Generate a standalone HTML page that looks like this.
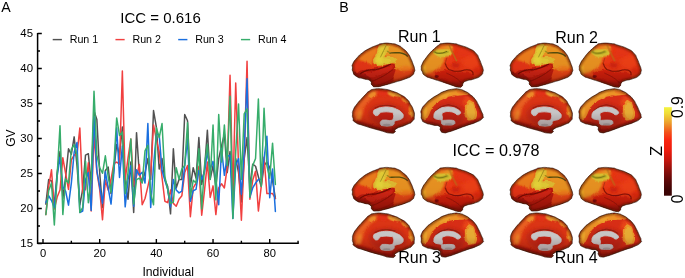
<!DOCTYPE html>
<html><head><meta charset="utf-8"><title>Figure</title>
<style>html,body{margin:0;padding:0;background:#fff}svg{display:block}text{font-family:"Liberation Sans",sans-serif;fill:#000}</style>
</head><body>
<svg width="685" height="278" viewBox="0 0 685 278">
<rect width="685" height="278" fill="#fff"/>
<defs>
<filter id="b3" x="-30%" y="-30%" width="160%" height="160%"><feGaussianBlur stdDeviation="3"/></filter>
<filter id="b5" x="-30%" y="-30%" width="160%" height="160%"><feGaussianBlur stdDeviation="5"/></filter>
<filter id="b8" x="-30%" y="-30%" width="160%" height="160%"><feGaussianBlur stdDeviation="8"/></filter>
<filter id="b2" x="-30%" y="-30%" width="160%" height="160%"><feGaussianBlur stdDeviation="1.6"/></filter>
<filter id="rough" x="-5%" y="-5%" width="110%" height="110%"><feTurbulence type="fractalNoise" baseFrequency="0.035" numOctaves="3" seed="7" result="n"/><feDisplacementMap in="SourceGraphic" in2="n" scale="15" xChannelSelector="R" yChannelSelector="G"/></filter>
<filter id="rough2" x="-5%" y="-5%" width="110%" height="110%"><feTurbulence type="fractalNoise" baseFrequency="0.06" numOctaves="2" seed="3" result="n"/><feDisplacementMap in="SourceGraphic" in2="n" scale="7" xChannelSelector="R" yChannelSelector="G"/></filter>
<linearGradient id="shade" gradientUnits="userSpaceOnUse" x1="0" y1="20" x2="0" y2="265"><stop offset="0" stop-color="#300" stop-opacity="0"/><stop offset="0.55" stop-color="#300" stop-opacity="0.04"/><stop offset="1" stop-color="#300" stop-opacity="0.38"/></linearGradient>
<linearGradient id="cb" x1="0" y1="0" x2="0" y2="1"><stop offset="0" stop-color="#f4f440"/><stop offset="0.07" stop-color="#f0dc38"/><stop offset="0.18" stop-color="#ec9c2c"/><stop offset="0.28" stop-color="#f2541a"/><stop offset="0.37" stop-color="#fa2610"/><stop offset="0.49" stop-color="#ec1c0e"/><stop offset="0.6" stop-color="#c4160e"/><stop offset="0.71" stop-color="#8e100c"/><stop offset="0.83" stop-color="#5c0808"/><stop offset="0.94" stop-color="#3c0404"/><stop offset="1" stop-color="#3a0404"/></linearGradient>
<clipPath id="cA"><path d="M25.0 155.0 C25.0 140.3 18.0 150.3 27.0 131.0 C36.0 111.7 35.0 116.3 52.0 97.0 C69.0 77.7 57.0 89.0 78.0 73.0 C99.0 57.0 87.3 63.7 115.0 49.0 C142.7 34.3 135.7 38.8 161.0 29.0 C186.3 19.2 165.0 22.7 191.0 19.5 C217.0 16.3 210.0 16.3 239.0 19.5 C268.0 22.7 255.2 19.2 278.0 29.0 C300.8 38.8 289.5 34.3 307.5 49.0 C325.5 63.7 317.8 54.3 332.0 73.0 C346.2 91.7 340.0 84.3 350.0 105.0 C360.0 125.7 355.3 116.7 362.0 135.0 C368.7 153.3 368.0 145.7 370.0 160.0 C372.0 174.3 373.3 165.0 368.0 178.0 C362.7 191.0 370.3 186.3 354.0 199.0 C337.7 211.7 349.3 204.3 319.0 216.0 C288.7 227.7 300.3 222.7 263.0 234.0 C225.7 245.3 242.0 241.3 207.0 250.0 C172.0 258.7 182.3 259.7 158.0 260.0 C133.7 260.3 145.7 262.0 134.0 251.0 C122.3 240.0 138.3 238.7 123.0 227.0 C107.7 215.3 113.7 224.3 88.0 216.0 C62.3 207.7 66.3 215.7 46.0 202.0 C25.7 188.3 34.0 190.7 27.0 175.0 C20.0 159.3 25.0 169.7 25.0 155.0Z"/></clipPath>
<g id="vA" transform="translate(348,40) scale(0.17986)">
<g clip-path="url(#cA)">
<path d="M25.0 155.0 C25.0 140.3 18.0 150.3 27.0 131.0 C36.0 111.7 35.0 116.3 52.0 97.0 C69.0 77.7 57.0 89.0 78.0 73.0 C99.0 57.0 87.3 63.7 115.0 49.0 C142.7 34.3 135.7 38.8 161.0 29.0 C186.3 19.2 165.0 22.7 191.0 19.5 C217.0 16.3 210.0 16.3 239.0 19.5 C268.0 22.7 255.2 19.2 278.0 29.0 C300.8 38.8 289.5 34.3 307.5 49.0 C325.5 63.7 317.8 54.3 332.0 73.0 C346.2 91.7 340.0 84.3 350.0 105.0 C360.0 125.7 355.3 116.7 362.0 135.0 C368.7 153.3 368.0 145.7 370.0 160.0 C372.0 174.3 373.3 165.0 368.0 178.0 C362.7 191.0 370.3 186.3 354.0 199.0 C337.7 211.7 349.3 204.3 319.0 216.0 C288.7 227.7 300.3 222.7 263.0 234.0 C225.7 245.3 242.0 241.3 207.0 250.0 C172.0 258.7 182.3 259.7 158.0 260.0 C133.7 260.3 145.7 262.0 134.0 251.0 C122.3 240.0 138.3 238.7 123.0 227.0 C107.7 215.3 113.7 224.3 88.0 216.0 C62.3 207.7 66.3 215.7 46.0 202.0 C25.7 188.3 34.0 190.7 27.0 175.0 C20.0 159.3 25.0 169.7 25.0 155.0Z" fill="#e64014"/>
<g filter="url(#rough)">
<path d="M58.0 100.0 C68.0 82.0 69.3 82.7 100.0 62.0 C130.7 41.3 129.3 35.3 150.0 38.0 C170.7 40.7 164.7 49.3 162.0 70.0 C159.3 90.7 153.3 78.7 142.0 100.0 C130.7 121.3 143.7 124.7 128.0 134.0 C112.3 143.3 114.3 134.0 95.0 128.0 C75.7 122.0 82.3 125.3 70.0 116.0 C57.7 106.7 48.0 118.0 58.0 100.0Z" fill="#ec7c1e" fill-opacity="1" filter="url(#b5)"/>
<path d="M205.0 20.0 C223.0 12.7 228.7 17.3 262.0 28.0 C295.3 38.7 279.0 29.7 305.0 52.0 C331.0 74.3 321.0 65.7 340.0 95.0 C359.0 124.3 360.3 116.3 362.0 140.0 C363.7 163.7 370.7 157.3 345.0 166.0 C319.3 174.7 316.7 176.0 285.0 166.0 C253.3 156.0 262.3 158.0 250.0 136.0 C237.7 114.0 260.7 115.3 248.0 100.0 C235.3 84.7 225.3 106.7 212.0 90.0 C198.7 73.3 210.3 73.3 208.0 50.0 C205.7 26.7 187.0 27.3 205.0 20.0Z" fill="#ea9424" fill-opacity="1" filter="url(#b5)"/>
<ellipse cx="322" cy="160" rx="42" ry="15" fill="#ee7a1e" fill-opacity="1" filter="url(#b5)"/>
<path d="M250.0 166.0 C266.7 155.3 266.7 172.0 300.0 174.0 C333.3 176.0 326.7 168.3 350.0 172.0 C373.3 175.7 370.0 174.0 370.0 185.0 C370.0 196.0 373.3 192.7 350.0 205.0 C326.7 217.3 333.3 221.7 300.0 222.0 C266.7 222.3 266.7 224.7 250.0 206.0 C233.3 187.3 233.3 176.7 250.0 166.0Z" fill="#ec4a16" fill-opacity="1" filter="url(#b5)"/>
<path d="M180.0 28.0 C195.7 22.0 198.7 16.7 214.0 24.0 C229.3 31.3 226.0 33.0 226.0 50.0 C226.0 67.0 220.7 60.0 214.0 75.0 C207.3 90.0 201.3 89.3 206.0 95.0 C210.7 100.7 210.7 90.3 228.0 92.0 C245.3 93.7 245.7 91.3 258.0 100.0 C270.3 108.7 271.7 108.0 265.0 118.0 C258.3 128.0 259.0 123.3 238.0 130.0 C217.0 136.7 222.3 133.7 202.0 138.0 C181.7 142.3 193.7 143.0 177.0 143.0 C160.3 143.0 164.3 147.0 152.0 138.0 C139.7 129.0 140.7 132.0 140.0 116.0 C139.3 100.0 143.3 107.0 150.0 90.0 C156.7 73.0 154.3 81.0 160.0 65.0 C165.7 49.0 160.3 54.3 167.0 42.0 C173.7 29.7 164.3 34.0 180.0 28.0Z" fill="#e0bc30" fill-opacity="1" filter="url(#b3)"/>
<path d="M178.0 50.0 C190.7 37.7 191.3 39.7 200.0 48.0 C208.7 56.3 205.3 58.3 204.0 75.0 C202.7 91.7 191.7 88.3 196.0 98.0 C200.3 107.7 203.3 100.0 217.0 104.0 C230.7 108.0 233.7 103.3 237.0 110.0 C240.3 116.7 242.0 116.7 227.0 124.0 C212.0 131.3 213.7 129.3 192.0 132.0 C170.3 134.7 175.3 138.7 162.0 132.0 C148.7 125.3 152.0 127.7 152.0 112.0 C152.0 96.3 153.3 105.7 162.0 85.0 C170.7 64.3 165.3 62.3 178.0 50.0Z" fill="#e2cc36" fill-opacity="1" filter="url(#b3)"/>
<ellipse cx="176" cy="112" rx="16" ry="18" fill="#e8d83a" fill-opacity="0.9" filter="url(#b5)"/>
<path d="M26.0 150.0 C30.0 131.3 25.7 132.0 42.0 122.0 C58.3 112.0 49.0 115.3 75.0 120.0 C101.0 124.7 98.3 126.0 120.0 136.0 C141.7 146.0 146.7 138.0 140.0 150.0 C133.3 162.0 126.7 161.3 100.0 172.0 C73.3 182.7 83.3 180.0 60.0 182.0 C36.7 184.0 41.3 188.7 30.0 178.0 C18.7 167.3 22.0 168.7 26.0 150.0Z" fill="#e43614" fill-opacity="1" filter="url(#b5)"/>
<path d="M58.0 178.0 C74.7 163.3 72.7 170.3 110.0 162.0 C147.3 153.7 127.3 162.7 170.0 153.0 C212.7 143.3 207.3 134.0 238.0 133.0 C268.7 132.0 256.7 127.7 262.0 150.0 C267.3 172.3 262.0 170.0 254.0 200.0 C246.0 230.0 270.0 219.3 238.0 240.0 C206.0 260.7 194.0 258.7 158.0 262.0 C122.0 265.3 142.7 262.0 130.0 250.0 C117.3 238.0 143.3 240.7 120.0 226.0 C96.7 211.3 80.7 222.0 60.0 206.0 C39.3 190.0 41.3 192.7 58.0 178.0Z" fill="#be1e10" fill-opacity="1" filter="url(#b3)"/>
<path d="M88.0 188.0 C98.0 176.3 102.0 186.7 150.0 173.0 C198.0 159.3 200.3 151.0 232.0 147.0 C263.7 143.0 262.3 145.7 245.0 161.0 C227.7 176.3 221.7 177.3 180.0 193.0 C138.3 208.7 150.7 209.7 120.0 208.0 C89.3 206.3 78.0 199.7 88.0 188.0Z" fill="#d22612" fill-opacity="1" filter="url(#b3)"/>
<path d="M28.0 178.0 C32.7 172.3 32.7 178.7 60.0 186.0 C87.3 193.3 89.0 186.3 110.0 200.0 C131.0 213.7 130.3 221.3 123.0 227.0 C115.7 232.7 113.7 225.0 88.0 217.0 C62.3 209.0 66.0 216.0 46.0 203.0 C26.0 190.0 23.3 183.7 28.0 178.0Z" fill="#a8180e" fill-opacity="1" filter="url(#b3)"/>
</g>
<path d="M211.0 33.0 C204.7 46.0 202.0 51.7 192.0 72.0 C182.0 92.3 184.7 86.7 181.0 94.0" fill="none" stroke="#8a7e18" stroke-width="5" stroke-opacity="0.85" stroke-linecap="round" stroke-linejoin="round" filter="url(#b2)"/>
<path d="M234.0 73.0 C246.0 72.3 246.3 70.3 270.0 71.0 C293.7 71.7 285.0 68.7 305.0 75.0 C325.0 81.3 321.7 85.0 330.0 90.0" fill="none" stroke="#4e4a0e" stroke-width="7.5" stroke-opacity="0.95" stroke-linecap="round" stroke-linejoin="round" filter="url(#b2)"/>
<path d="M218.0 62.0 C223.3 65.3 228.7 68.7 234.0 72.0" fill="none" stroke="#8e8618" stroke-width="6" stroke-opacity="0.85" stroke-linecap="round" stroke-linejoin="round" filter="url(#b2)"/>
<path d="M68.0 188.0 C81.3 181.7 74.0 178.0 108.0 169.0 C142.0 160.0 127.3 172.3 170.0 161.0 C212.7 149.7 214.0 143.7 236.0 135.0" fill="none" stroke="#6a0a06" stroke-width="6" stroke-opacity="0.95" stroke-linecap="round" stroke-linejoin="round" filter="url(#b2)"/>
<path d="M125.0 232.0 C144.0 224.0 141.3 229.7 182.0 208.0 C222.7 186.3 225.3 180.7 247.0 167.0" fill="none" stroke="#84100a" stroke-width="5" stroke-opacity="0.9" stroke-linecap="round" stroke-linejoin="round" filter="url(#b2)"/>
<path d="M155.0 254.0 C171.7 248.7 172.7 252.0 205.0 238.0 C237.3 224.0 236.3 220.7 252.0 212.0" fill="none" stroke="#9a140c" stroke-width="5" stroke-opacity="0.7" stroke-linecap="round" stroke-linejoin="round" filter="url(#b3)"/>
<rect x="0" y="0" width="400" height="278" fill="url(#shade)"/>
<path d="M25.0 155.0 C25.0 140.3 18.0 150.3 27.0 131.0 C36.0 111.7 35.0 116.3 52.0 97.0 C69.0 77.7 57.0 89.0 78.0 73.0 C99.0 57.0 87.3 63.7 115.0 49.0 C142.7 34.3 135.7 38.8 161.0 29.0 C186.3 19.2 165.0 22.7 191.0 19.5 C217.0 16.3 210.0 16.3 239.0 19.5 C268.0 22.7 255.2 19.2 278.0 29.0 C300.8 38.8 289.5 34.3 307.5 49.0 C325.5 63.7 317.8 54.3 332.0 73.0 C346.2 91.7 340.0 84.3 350.0 105.0 C360.0 125.7 355.3 116.7 362.0 135.0 C368.7 153.3 368.0 145.7 370.0 160.0 C372.0 174.3 373.3 165.0 368.0 178.0 C362.7 191.0 370.3 186.3 354.0 199.0 C337.7 211.7 349.3 204.3 319.0 216.0 C288.7 227.7 300.3 222.7 263.0 234.0 C225.7 245.3 242.0 241.3 207.0 250.0 C172.0 258.7 182.3 259.7 158.0 260.0 C133.7 260.3 145.7 262.0 134.0 251.0 C122.3 240.0 138.3 238.7 123.0 227.0 C107.7 215.3 113.7 224.3 88.0 216.0 C62.3 207.7 66.3 215.7 46.0 202.0 C25.7 188.3 34.0 190.7 27.0 175.0 C20.0 159.3 25.0 169.7 25.0 155.0Z" fill="none" stroke="#4a1206" stroke-opacity="0.6" stroke-width="18" filter="url(#b5)"/>
</g>
<path d="M25.0 155.0 C25.0 140.3 18.0 150.3 27.0 131.0 C36.0 111.7 35.0 116.3 52.0 97.0 C69.0 77.7 57.0 89.0 78.0 73.0 C99.0 57.0 87.3 63.7 115.0 49.0 C142.7 34.3 135.7 38.8 161.0 29.0 C186.3 19.2 165.0 22.7 191.0 19.5 C217.0 16.3 210.0 16.3 239.0 19.5 C268.0 22.7 255.2 19.2 278.0 29.0 C300.8 38.8 289.5 34.3 307.5 49.0 C325.5 63.7 317.8 54.3 332.0 73.0 C346.2 91.7 340.0 84.3 350.0 105.0 C360.0 125.7 355.3 116.7 362.0 135.0 C368.7 153.3 368.0 145.7 370.0 160.0 C372.0 174.3 373.3 165.0 368.0 178.0 C362.7 191.0 370.3 186.3 354.0 199.0 C337.7 211.7 349.3 204.3 319.0 216.0 C288.7 227.7 300.3 222.7 263.0 234.0 C225.7 245.3 242.0 241.3 207.0 250.0 C172.0 258.7 182.3 259.7 158.0 260.0 C133.7 260.3 145.7 262.0 134.0 251.0 C122.3 240.0 138.3 238.7 123.0 227.0 C107.7 215.3 113.7 224.3 88.0 216.0 C62.3 207.7 66.3 215.7 46.0 202.0 C25.7 188.3 34.0 190.7 27.0 175.0 C20.0 159.3 25.0 169.7 25.0 155.0Z" fill="none" stroke="#2a1008" stroke-opacity="0.92" stroke-width="4"/>
</g>
<clipPath id="cB"><path d="M24.0 158.0 C24.3 143.3 20.7 151.3 30.0 131.0 C39.3 110.7 38.3 116.3 52.0 97.0 C65.7 77.7 56.3 89.0 71.0 73.0 C85.7 57.0 79.7 63.7 96.0 49.0 C112.3 34.3 104.7 38.8 120.0 29.0 C135.3 19.2 115.3 22.7 142.0 19.5 C168.7 16.3 167.7 16.3 200.0 19.5 C232.3 22.7 208.0 19.2 239.0 29.0 C270.0 38.8 263.7 34.3 293.0 49.0 C322.3 63.7 309.3 54.3 327.0 73.0 C344.7 91.7 335.7 84.3 346.0 105.0 C356.3 125.7 351.0 116.7 358.0 135.0 C365.0 153.3 364.0 146.3 367.0 160.0 C370.0 173.7 371.3 163.0 367.0 176.0 C362.7 189.0 370.0 185.7 354.0 199.0 C338.0 212.3 344.7 206.7 319.0 216.0 C293.3 225.3 297.3 219.7 277.0 227.0 C256.7 234.3 267.3 227.7 258.0 238.0 C248.7 248.3 259.0 250.0 249.0 258.0 C239.0 266.0 246.7 264.3 228.0 262.0 C209.3 259.7 221.0 260.3 193.0 251.0 C165.0 241.7 179.0 245.7 144.0 234.0 C109.0 222.3 120.7 227.7 88.0 216.0 C55.3 204.3 65.7 212.7 46.0 199.0 C26.3 185.3 36.3 188.7 29.0 175.0 C21.7 161.3 23.7 172.7 24.0 158.0Z"/></clipPath>
<g id="vB" transform="translate(417,40) scale(0.17986)">
<g clip-path="url(#cB)">
<path d="M24.0 158.0 C24.3 143.3 20.7 151.3 30.0 131.0 C39.3 110.7 38.3 116.3 52.0 97.0 C65.7 77.7 56.3 89.0 71.0 73.0 C85.7 57.0 79.7 63.7 96.0 49.0 C112.3 34.3 104.7 38.8 120.0 29.0 C135.3 19.2 115.3 22.7 142.0 19.5 C168.7 16.3 167.7 16.3 200.0 19.5 C232.3 22.7 208.0 19.2 239.0 29.0 C270.0 38.8 263.7 34.3 293.0 49.0 C322.3 63.7 309.3 54.3 327.0 73.0 C344.7 91.7 335.7 84.3 346.0 105.0 C356.3 125.7 351.0 116.7 358.0 135.0 C365.0 153.3 364.0 146.3 367.0 160.0 C370.0 173.7 371.3 163.0 367.0 176.0 C362.7 189.0 370.0 185.7 354.0 199.0 C338.0 212.3 344.7 206.7 319.0 216.0 C293.3 225.3 297.3 219.7 277.0 227.0 C256.7 234.3 267.3 227.7 258.0 238.0 C248.7 248.3 259.0 250.0 249.0 258.0 C239.0 266.0 246.7 264.3 228.0 262.0 C209.3 259.7 221.0 260.3 193.0 251.0 C165.0 241.7 179.0 245.7 144.0 234.0 C109.0 222.3 120.7 227.7 88.0 216.0 C55.3 204.3 65.7 212.7 46.0 199.0 C26.3 185.3 36.3 188.7 29.0 175.0 C21.7 161.3 23.7 172.7 24.0 158.0Z" fill="#e83814"/>
<g filter="url(#rough)">
<path d="M40.0 150.0 C56.7 130.0 60.0 140.0 100.0 140.0 C140.0 140.0 143.3 125.0 160.0 150.0 C176.7 175.0 170.0 193.0 150.0 215.0 C130.0 237.0 133.3 221.0 100.0 216.0 C66.7 211.0 70.0 222.0 50.0 200.0 C30.0 178.0 23.3 170.0 40.0 150.0Z" fill="#e84816" fill-opacity="1" filter="url(#b5)"/>
<path d="M24.0 125.0 C33.0 93.0 29.7 114.3 55.0 88.0 C80.3 61.7 65.0 67.3 100.0 46.0 C135.0 24.7 128.0 26.0 160.0 24.0 C192.0 22.0 186.7 23.0 196.0 40.0 C205.3 57.0 196.0 55.0 188.0 75.0 C180.0 95.0 184.7 83.7 172.0 100.0 C159.3 116.3 167.3 105.3 150.0 124.0 C132.7 142.7 146.7 136.7 120.0 156.0 C93.3 175.3 100.7 172.7 70.0 182.0 C39.3 191.3 43.3 203.0 28.0 184.0 C12.7 165.0 15.0 157.0 24.0 125.0Z" fill="#ea9424" fill-opacity="1" filter="url(#b5)"/>
<path d="M98.0 58.0 C112.0 46.7 122.0 52.0 150.0 52.0 C178.0 52.0 169.3 47.3 182.0 58.0 C194.7 68.7 198.7 72.0 188.0 84.0 C177.3 96.0 176.7 93.3 150.0 94.0 C123.3 94.7 125.3 98.0 108.0 86.0 C90.7 74.0 84.0 69.3 98.0 58.0Z" fill="#d8c230" fill-opacity="1" filter="url(#b3)"/>
<ellipse cx="130" cy="36" rx="36" ry="11" fill="#ee6c20" fill-opacity="0.9" filter="url(#b5)" transform="rotate(-12 130 36)"/>
<ellipse cx="176" cy="112" rx="26" ry="22" fill="#ee3c16" fill-opacity="0.9" filter="url(#b5)"/>
<ellipse cx="36" cy="165" rx="11" ry="26" fill="#eeb02a" fill-opacity="1" filter="url(#b5)"/>
<ellipse cx="300" cy="120" rx="45" ry="40" fill="#ee4014" fill-opacity="1" filter="url(#b8)"/>
<ellipse cx="260" cy="70" rx="45" ry="22" fill="#e63412" fill-opacity="1" filter="url(#b8)"/>
<ellipse cx="340" cy="170" rx="25" ry="18" fill="#e02c10" fill-opacity="1" filter="url(#b5)"/>
<path d="M98.0 196.0 C100.0 174.7 119.3 178.0 150.0 170.0 C180.7 162.0 156.7 168.7 190.0 172.0 C223.3 175.3 213.3 175.3 250.0 180.0 C286.7 184.7 279.3 177.7 300.0 186.0 C320.7 194.3 319.7 191.3 312.0 205.0 C304.3 218.7 295.0 216.0 277.0 227.0 C259.0 238.0 267.3 227.7 258.0 238.0 C248.7 248.3 259.0 250.0 249.0 258.0 C239.0 266.0 246.7 264.3 228.0 262.0 C209.3 259.7 221.0 260.3 193.0 251.0 C165.0 241.7 175.7 252.3 144.0 234.0 C112.3 215.7 96.0 217.3 98.0 196.0Z" fill="#d82410" fill-opacity="1" filter="url(#b3)"/>
<path d="M130.0 226.0 C132.3 219.7 156.0 230.0 200.0 232.0 C244.0 234.0 245.7 223.3 262.0 232.0 C278.3 240.7 260.3 248.0 249.0 258.0 C237.7 268.0 246.7 264.3 228.0 262.0 C209.3 259.7 225.7 263.0 193.0 251.0 C160.3 239.0 127.7 232.3 130.0 226.0Z" fill="#b41a10" fill-opacity="1" filter="url(#b5)"/>
<ellipse cx="109" cy="203" rx="11" ry="8" fill="#7e0e08" fill-opacity="1" filter="url(#b3)"/>
<ellipse cx="215" cy="140" rx="22" ry="14" fill="#c81e10" fill-opacity="0.8" filter="url(#b5)"/>
</g>
<path d="M96.0 66.0 C106.7 69.0 103.3 75.0 128.0 75.0 C152.7 75.0 156.0 69.0 170.0 66.0" fill="none" stroke="#b4aa24" stroke-width="13" stroke-opacity="0.95" stroke-linecap="round" stroke-linejoin="round" filter="url(#b3)"/>
<path d="M100.0 68.0 C109.3 70.0 106.3 75.3 128.0 74.0 C149.7 72.7 152.7 67.3 165.0 64.0" fill="none" stroke="#5e5a10" stroke-width="5" stroke-opacity="0.9" stroke-linecap="round" stroke-linejoin="round" filter="url(#b2)"/>
<path d="M180.0 32.0 C186.7 46.3 186.7 47.3 200.0 75.0 C213.3 102.7 213.3 101.7 220.0 115.0" fill="none" stroke="#b8721a" stroke-width="8" stroke-opacity="0.8" stroke-linecap="round" stroke-linejoin="round" filter="url(#b3)"/>
<path d="M158.0 132.0 C162.0 140.0 159.3 144.0 170.0 156.0 C180.7 168.0 170.7 162.0 190.0 168.0 C209.3 174.0 199.0 175.0 228.0 174.0 C257.0 173.0 251.3 165.0 277.0 165.0 C302.7 165.0 293.3 165.0 305.0 174.0 C316.7 183.0 309.7 186.0 312.0 192.0" fill="none" stroke="#7e0e08" stroke-width="6" stroke-opacity="0.95" stroke-linecap="round" stroke-linejoin="round" filter="url(#b2)"/>
<path d="M166.0 100.0 C162.7 110.7 159.3 121.3 156.0 132.0" fill="none" stroke="#a43410" stroke-width="5" stroke-opacity="0.8" stroke-linecap="round" stroke-linejoin="round" filter="url(#b2)"/>
<path d="M165.0 185.0 C181.3 193.3 186.3 191.7 214.0 210.0 C241.7 228.3 236.7 230.0 248.0 240.0" fill="none" stroke="#9a140c" stroke-width="5" stroke-opacity="0.85" stroke-linecap="round" stroke-linejoin="round" filter="url(#b2)"/>
<rect x="0" y="0" width="400" height="278" fill="url(#shade)"/>
<path d="M24.0 158.0 C24.3 143.3 20.7 151.3 30.0 131.0 C39.3 110.7 38.3 116.3 52.0 97.0 C65.7 77.7 56.3 89.0 71.0 73.0 C85.7 57.0 79.7 63.7 96.0 49.0 C112.3 34.3 104.7 38.8 120.0 29.0 C135.3 19.2 115.3 22.7 142.0 19.5 C168.7 16.3 167.7 16.3 200.0 19.5 C232.3 22.7 208.0 19.2 239.0 29.0 C270.0 38.8 263.7 34.3 293.0 49.0 C322.3 63.7 309.3 54.3 327.0 73.0 C344.7 91.7 335.7 84.3 346.0 105.0 C356.3 125.7 351.0 116.7 358.0 135.0 C365.0 153.3 364.0 146.3 367.0 160.0 C370.0 173.7 371.3 163.0 367.0 176.0 C362.7 189.0 370.0 185.7 354.0 199.0 C338.0 212.3 344.7 206.7 319.0 216.0 C293.3 225.3 297.3 219.7 277.0 227.0 C256.7 234.3 267.3 227.7 258.0 238.0 C248.7 248.3 259.0 250.0 249.0 258.0 C239.0 266.0 246.7 264.3 228.0 262.0 C209.3 259.7 221.0 260.3 193.0 251.0 C165.0 241.7 179.0 245.7 144.0 234.0 C109.0 222.3 120.7 227.7 88.0 216.0 C55.3 204.3 65.7 212.7 46.0 199.0 C26.3 185.3 36.3 188.7 29.0 175.0 C21.7 161.3 23.7 172.7 24.0 158.0Z" fill="none" stroke="#4a1206" stroke-opacity="0.6" stroke-width="18" filter="url(#b5)"/>
</g>
<path d="M24.0 158.0 C24.3 143.3 20.7 151.3 30.0 131.0 C39.3 110.7 38.3 116.3 52.0 97.0 C65.7 77.7 56.3 89.0 71.0 73.0 C85.7 57.0 79.7 63.7 96.0 49.0 C112.3 34.3 104.7 38.8 120.0 29.0 C135.3 19.2 115.3 22.7 142.0 19.5 C168.7 16.3 167.7 16.3 200.0 19.5 C232.3 22.7 208.0 19.2 239.0 29.0 C270.0 38.8 263.7 34.3 293.0 49.0 C322.3 63.7 309.3 54.3 327.0 73.0 C344.7 91.7 335.7 84.3 346.0 105.0 C356.3 125.7 351.0 116.7 358.0 135.0 C365.0 153.3 364.0 146.3 367.0 160.0 C370.0 173.7 371.3 163.0 367.0 176.0 C362.7 189.0 370.0 185.7 354.0 199.0 C338.0 212.3 344.7 206.7 319.0 216.0 C293.3 225.3 297.3 219.7 277.0 227.0 C256.7 234.3 267.3 227.7 258.0 238.0 C248.7 248.3 259.0 250.0 249.0 258.0 C239.0 266.0 246.7 264.3 228.0 262.0 C209.3 259.7 221.0 260.3 193.0 251.0 C165.0 241.7 179.0 245.7 144.0 234.0 C109.0 222.3 120.7 227.7 88.0 216.0 C55.3 204.3 65.7 212.7 46.0 199.0 C26.3 185.3 36.3 188.7 29.0 175.0 C21.7 161.3 23.7 172.7 24.0 158.0Z" fill="none" stroke="#2a1008" stroke-opacity="0.92" stroke-width="4"/>
</g>
<clipPath id="cC"><path d="M25.0 165.0 C25.7 149.3 21.0 157.7 30.0 137.0 C39.0 116.3 37.3 122.7 52.0 103.0 C66.7 83.3 59.3 94.2 74.0 78.0 C88.7 61.8 81.7 68.8 96.0 54.5 C110.3 40.2 100.0 45.5 117.0 35.0 C134.0 24.5 119.3 27.0 147.0 23.0 C174.7 19.0 166.0 19.0 200.0 23.0 C234.0 27.0 218.0 24.5 249.0 35.0 C280.0 45.5 267.0 40.2 293.0 54.5 C319.0 68.8 308.7 60.2 327.0 78.0 C345.3 95.8 336.0 88.0 348.0 108.0 C360.0 128.0 356.0 116.3 363.0 138.0 C370.0 159.7 370.7 152.0 369.0 173.0 C367.3 194.0 373.0 185.0 358.0 201.0 C343.0 217.0 354.3 206.7 324.0 221.0 C293.7 235.3 288.0 230.7 267.0 244.0 C246.0 257.3 272.3 253.3 261.0 261.0 C249.7 268.7 261.3 270.0 233.0 267.0 C204.7 264.0 223.3 265.3 176.0 252.0 C128.7 238.7 136.3 242.0 91.0 227.0 C45.7 212.0 61.0 221.3 40.0 207.0 C19.0 192.7 33.0 198.0 28.0 184.0 C23.0 170.0 24.3 180.7 25.0 165.0Z"/></clipPath>
<g id="vC" transform="translate(348,85) scale(0.17986)">
<g clip-path="url(#cC)">
<path d="M25.0 165.0 C25.7 149.3 21.0 157.7 30.0 137.0 C39.0 116.3 37.3 122.7 52.0 103.0 C66.7 83.3 59.3 94.2 74.0 78.0 C88.7 61.8 81.7 68.8 96.0 54.5 C110.3 40.2 100.0 45.5 117.0 35.0 C134.0 24.5 119.3 27.0 147.0 23.0 C174.7 19.0 166.0 19.0 200.0 23.0 C234.0 27.0 218.0 24.5 249.0 35.0 C280.0 45.5 267.0 40.2 293.0 54.5 C319.0 68.8 308.7 60.2 327.0 78.0 C345.3 95.8 336.0 88.0 348.0 108.0 C360.0 128.0 356.0 116.3 363.0 138.0 C370.0 159.7 370.7 152.0 369.0 173.0 C367.3 194.0 373.0 185.0 358.0 201.0 C343.0 217.0 354.3 206.7 324.0 221.0 C293.7 235.3 288.0 230.7 267.0 244.0 C246.0 257.3 272.3 253.3 261.0 261.0 C249.7 268.7 261.3 270.0 233.0 267.0 C204.7 264.0 223.3 265.3 176.0 252.0 C128.7 238.7 136.3 242.0 91.0 227.0 C45.7 212.0 61.0 221.3 40.0 207.0 C19.0 192.7 33.0 198.0 28.0 184.0 C23.0 170.0 24.3 180.7 25.0 165.0Z" fill="#de3616"/>
<g filter="url(#rough)">
<path d="M25.0 165.0 C23.0 146.0 21.0 157.7 30.0 137.0 C39.0 116.3 37.3 122.7 52.0 103.0 C66.7 83.3 59.3 94.2 74.0 78.0 C88.7 61.8 81.7 68.8 96.0 54.5 C110.3 40.2 100.0 45.5 117.0 35.0 C134.0 24.5 131.0 21.3 147.0 23.0 C163.0 24.7 167.3 24.3 165.0 40.0 C162.7 55.7 158.3 50.0 140.0 70.0 C121.7 90.0 127.3 78.3 110.0 100.0 C92.7 121.7 98.7 110.0 88.0 135.0 C77.3 160.0 87.3 153.3 78.0 175.0 C68.7 196.7 74.0 193.7 60.0 200.0 C46.0 206.3 47.7 205.7 36.0 194.0 C24.3 182.3 27.0 184.0 25.0 165.0Z" fill="#ec6220" fill-opacity="1" filter="url(#b5)"/>
<ellipse cx="134" cy="54" rx="22" ry="15" fill="#ee8c2a" fill-opacity="1" filter="url(#b3)" transform="rotate(-30 134 54)"/>
<ellipse cx="258" cy="52" rx="44" ry="15" fill="#eea030" fill-opacity="1" filter="url(#b3)" transform="rotate(16 258 52)"/>
<ellipse cx="314" cy="84" rx="22" ry="11" fill="#ec8626" fill-opacity="1" filter="url(#b3)" transform="rotate(42 314 84)"/>
<ellipse cx="350" cy="142" rx="12" ry="32" fill="#f0801e" fill-opacity="1" filter="url(#b3)" transform="rotate(-8 350 142)"/>
<ellipse cx="358" cy="165" rx="8" ry="18" fill="#f0a030" fill-opacity="1" filter="url(#b3)"/>
<ellipse cx="62" cy="166" rx="11" ry="32" fill="#f0882a" fill-opacity="0.9" filter="url(#b5)" transform="rotate(12 62 166)"/>
<ellipse cx="195" cy="45" rx="28" ry="14" fill="#e63018" fill-opacity="0.9" filter="url(#b5)"/>
<path d="M36.0 196.0 C56.0 197.7 52.0 199.3 100.0 212.0 C148.0 224.7 130.0 225.3 180.0 234.0 C230.0 242.7 210.0 242.7 250.0 238.0 C290.0 233.3 273.3 227.3 300.0 220.0 C326.7 212.7 341.0 208.0 330.0 216.0 C319.0 224.0 290.0 229.0 267.0 244.0 C244.0 259.0 272.3 253.3 261.0 261.0 C249.7 268.7 261.3 270.0 233.0 267.0 C204.7 264.0 223.3 265.3 176.0 252.0 C128.7 238.7 136.3 242.0 91.0 227.0 C45.7 212.0 58.3 217.3 40.0 207.0 C21.7 196.7 16.0 194.3 36.0 196.0Z" fill="#a81810" fill-opacity="1" filter="url(#b5)"/>
<path d="M186.0 151.0 C207.3 141.3 217.0 147.7 239.0 151.0 C261.0 154.3 247.7 149.7 252.0 161.0 C256.3 172.3 256.3 173.0 252.0 185.0 C247.7 197.0 255.0 193.7 239.0 197.0 C223.0 200.3 222.0 194.0 204.0 195.0 C186.0 196.0 194.7 205.0 185.0 200.0 C175.3 195.0 174.7 196.3 175.0 180.0 C175.3 163.7 164.7 160.7 186.0 151.0Z" fill="#d42616" fill-opacity="1" filter="url(#b2)"/>
</g>
<path d="M118.0 175.0 C107.3 146.0 104.0 151.7 128.0 128.0 C152.0 104.3 143.3 110.0 190.0 104.0 C236.7 98.0 225.3 95.3 268.0 110.0 C310.7 124.7 298.7 121.3 318.0 148.0 C337.3 174.7 335.3 167.3 326.0 190.0 C316.7 212.7 313.7 200.0 290.0 216.0 C266.3 232.0 288.3 230.0 255.0 238.0 C221.7 246.0 221.7 247.7 190.0 240.0 C158.3 232.3 184.0 236.7 160.0 215.0 C136.0 193.3 128.7 204.0 118.0 175.0Z" fill="#b41c12" fill-opacity="0.55" filter="url(#b8)"/>
<path d="M142.0 146.0 C144.4 138.0 142.7 140.9 156.0 135.0 C169.3 129.1 171.2 126.9 192.0 124.0 C212.8 121.1 213.2 121.1 234.0 124.0 C254.8 126.9 253.2 127.5 270.0 135.0 C286.8 142.5 287.1 141.6 297.0 152.0 C306.9 162.4 307.8 163.9 307.0 174.0 C306.2 184.1 303.9 183.9 294.0 190.0 C284.1 196.1 279.6 193.3 270.0 197.0 C260.4 200.7 262.0 198.4 258.0 204.0 C254.0 209.6 260.6 211.9 255.0 218.0 C249.4 224.1 252.2 224.6 237.0 227.0 C221.8 229.4 212.9 229.4 198.0 227.0 C183.1 224.6 184.5 225.2 181.0 218.0 C177.5 210.8 178.9 206.1 185.0 200.0 C191.1 193.9 189.6 195.8 204.0 195.0 C218.4 194.2 226.2 199.7 239.0 197.0 C251.8 194.3 248.5 194.6 252.0 185.0 C255.5 175.4 255.5 170.1 252.0 161.0 C248.5 151.9 256.6 153.7 239.0 151.0 C221.4 148.3 203.3 148.3 186.0 151.0 C168.7 153.7 180.4 155.9 174.0 161.0 C167.6 166.1 169.2 168.9 162.0 170.0 C154.8 171.1 152.3 171.4 147.0 165.0 C141.7 158.6 139.6 154.0 142.0 146.0Z" fill="#cdcdcd" stroke="#cdcdcd" stroke-width="5" filter="url(#rough2)"/>
<ellipse cx="215" cy="222" rx="20" ry="6" fill="#a8a8a8" fill-opacity="0.8" filter="url(#b3)"/>
<path d="M150.0 128.0 C166.7 123.3 162.7 116.7 200.0 114.0 C237.3 111.3 241.3 118.0 262.0 120.0" fill="none" stroke="#5a1410" stroke-width="4" stroke-opacity="0.7" stroke-linecap="round" stroke-linejoin="round" filter="url(#b2)"/>
<rect x="0" y="0" width="400" height="278" fill="url(#shade)"/>
<path d="M25.0 165.0 C25.7 149.3 21.0 157.7 30.0 137.0 C39.0 116.3 37.3 122.7 52.0 103.0 C66.7 83.3 59.3 94.2 74.0 78.0 C88.7 61.8 81.7 68.8 96.0 54.5 C110.3 40.2 100.0 45.5 117.0 35.0 C134.0 24.5 119.3 27.0 147.0 23.0 C174.7 19.0 166.0 19.0 200.0 23.0 C234.0 27.0 218.0 24.5 249.0 35.0 C280.0 45.5 267.0 40.2 293.0 54.5 C319.0 68.8 308.7 60.2 327.0 78.0 C345.3 95.8 336.0 88.0 348.0 108.0 C360.0 128.0 356.0 116.3 363.0 138.0 C370.0 159.7 370.7 152.0 369.0 173.0 C367.3 194.0 373.0 185.0 358.0 201.0 C343.0 217.0 354.3 206.7 324.0 221.0 C293.7 235.3 288.0 230.7 267.0 244.0 C246.0 257.3 272.3 253.3 261.0 261.0 C249.7 268.7 261.3 270.0 233.0 267.0 C204.7 264.0 223.3 265.3 176.0 252.0 C128.7 238.7 136.3 242.0 91.0 227.0 C45.7 212.0 61.0 221.3 40.0 207.0 C19.0 192.7 33.0 198.0 28.0 184.0 C23.0 170.0 24.3 180.7 25.0 165.0Z" fill="none" stroke="#4a1206" stroke-opacity="0.6" stroke-width="18" filter="url(#b5)"/>
</g>
<path d="M25.0 165.0 C25.7 149.3 21.0 157.7 30.0 137.0 C39.0 116.3 37.3 122.7 52.0 103.0 C66.7 83.3 59.3 94.2 74.0 78.0 C88.7 61.8 81.7 68.8 96.0 54.5 C110.3 40.2 100.0 45.5 117.0 35.0 C134.0 24.5 119.3 27.0 147.0 23.0 C174.7 19.0 166.0 19.0 200.0 23.0 C234.0 27.0 218.0 24.5 249.0 35.0 C280.0 45.5 267.0 40.2 293.0 54.5 C319.0 68.8 308.7 60.2 327.0 78.0 C345.3 95.8 336.0 88.0 348.0 108.0 C360.0 128.0 356.0 116.3 363.0 138.0 C370.0 159.7 370.7 152.0 369.0 173.0 C367.3 194.0 373.0 185.0 358.0 201.0 C343.0 217.0 354.3 206.7 324.0 221.0 C293.7 235.3 288.0 230.7 267.0 244.0 C246.0 257.3 272.3 253.3 261.0 261.0 C249.7 268.7 261.3 270.0 233.0 267.0 C204.7 264.0 223.3 265.3 176.0 252.0 C128.7 238.7 136.3 242.0 91.0 227.0 C45.7 212.0 61.0 221.3 40.0 207.0 C19.0 192.7 33.0 198.0 28.0 184.0 C23.0 170.0 24.3 180.7 25.0 165.0Z" fill="none" stroke="#2a1008" stroke-opacity="0.92" stroke-width="4"/>
</g>
<clipPath id="cD"><path d="M24.0 165.0 C23.3 146.7 16.5 157.7 25.0 137.0 C33.5 116.3 31.8 122.7 49.5 103.0 C67.2 83.3 56.2 94.2 78.0 78.0 C99.8 61.8 90.3 68.8 115.0 54.5 C139.7 40.2 123.7 45.5 152.0 35.0 C180.3 24.5 172.7 27.0 200.0 23.0 C227.3 19.0 211.3 19.0 234.0 23.0 C256.7 27.0 247.0 24.7 268.0 35.0 C289.0 45.3 279.0 39.7 297.0 54.0 C315.0 68.3 307.0 59.0 322.0 78.0 C337.0 97.0 330.0 88.3 342.0 111.0 C354.0 133.7 349.7 126.3 358.0 146.0 C366.3 165.7 365.7 156.0 367.0 170.0 C368.3 184.0 375.7 175.3 362.0 188.0 C348.3 200.7 354.3 195.7 326.0 208.0 C297.7 220.3 309.7 213.3 277.0 225.0 C244.3 236.7 260.7 231.3 228.0 243.0 C195.3 254.7 205.7 252.7 179.0 260.0 C152.3 267.3 164.0 267.3 148.0 265.0 C132.0 262.7 139.0 264.7 131.0 253.0 C123.0 241.3 138.3 240.3 124.0 230.0 C109.7 219.7 114.0 228.7 88.0 222.0 C62.0 215.3 66.3 220.0 46.0 210.0 C25.7 200.0 34.3 207.0 27.0 192.0 C19.7 177.0 24.7 183.3 24.0 165.0Z"/></clipPath>
<g id="vD" transform="translate(417,85) scale(0.17986)">
<g clip-path="url(#cD)">
<path d="M24.0 165.0 C23.3 146.7 16.5 157.7 25.0 137.0 C33.5 116.3 31.8 122.7 49.5 103.0 C67.2 83.3 56.2 94.2 78.0 78.0 C99.8 61.8 90.3 68.8 115.0 54.5 C139.7 40.2 123.7 45.5 152.0 35.0 C180.3 24.5 172.7 27.0 200.0 23.0 C227.3 19.0 211.3 19.0 234.0 23.0 C256.7 27.0 247.0 24.7 268.0 35.0 C289.0 45.3 279.0 39.7 297.0 54.0 C315.0 68.3 307.0 59.0 322.0 78.0 C337.0 97.0 330.0 88.3 342.0 111.0 C354.0 133.7 349.7 126.3 358.0 146.0 C366.3 165.7 365.7 156.0 367.0 170.0 C368.3 184.0 375.7 175.3 362.0 188.0 C348.3 200.7 354.3 195.7 326.0 208.0 C297.7 220.3 309.7 213.3 277.0 225.0 C244.3 236.7 260.7 231.3 228.0 243.0 C195.3 254.7 205.7 252.7 179.0 260.0 C152.3 267.3 164.0 267.3 148.0 265.0 C132.0 262.7 139.0 264.7 131.0 253.0 C123.0 241.3 138.3 240.3 124.0 230.0 C109.7 219.7 114.0 228.7 88.0 222.0 C62.0 215.3 66.3 220.0 46.0 210.0 C25.7 200.0 34.3 207.0 27.0 192.0 C19.7 177.0 24.7 183.3 24.0 165.0Z" fill="#da2e16"/>
<g filter="url(#rough)">
<path d="M24.0 165.0 C22.7 148.0 16.5 157.7 25.0 137.0 C33.5 116.3 31.8 122.7 49.5 103.0 C67.2 83.3 56.2 94.2 78.0 78.0 C99.8 61.8 90.3 68.8 115.0 54.5 C139.7 40.2 123.7 45.5 152.0 35.0 C180.3 24.5 172.7 27.0 200.0 23.0 C227.3 19.0 211.3 19.0 234.0 23.0 C256.7 27.0 251.0 25.3 268.0 35.0 C285.0 44.7 294.3 44.3 285.0 52.0 C275.7 59.7 271.7 54.7 240.0 58.0 C208.3 61.3 220.0 56.0 190.0 62.0 C160.0 68.0 176.0 63.3 150.0 76.0 C124.0 88.7 134.0 81.3 112.0 100.0 C90.0 118.7 99.3 109.3 84.0 132.0 C68.7 154.7 77.3 150.0 66.0 168.0 C54.7 186.0 62.3 179.3 50.0 186.0 C37.7 192.7 37.7 195.0 29.0 188.0 C20.3 181.0 25.3 182.0 24.0 165.0Z" fill="#ee9428" fill-opacity="1" filter="url(#b3)"/>
<ellipse cx="150" cy="58" rx="40" ry="10" fill="#f0a630" fill-opacity="0.85" filter="url(#b3)" transform="rotate(-22 150 58)"/>
<ellipse cx="44" cy="150" rx="11" ry="28" fill="#f0a82e" fill-opacity="0.9" filter="url(#b3)" transform="rotate(10 44 150)"/>
<ellipse cx="250" cy="42" rx="30" ry="10" fill="#ee7a22" fill-opacity="0.9" filter="url(#b3)" transform="rotate(12 250 42)"/>
<ellipse cx="290" cy="95" rx="36" ry="28" fill="#ec4618" fill-opacity="1" filter="url(#b8)"/>
<path d="M276.0 98.0 C288.7 81.3 287.3 80.0 304.0 90.0 C320.7 100.0 316.7 99.3 326.0 128.0 C335.3 156.7 339.3 153.3 332.0 176.0 C324.7 198.7 324.0 194.0 304.0 196.0 C284.0 198.0 284.7 200.7 272.0 182.0 C259.3 163.3 264.7 168.0 266.0 140.0 C267.3 112.0 263.3 114.7 276.0 98.0Z" fill="#ee9a2c" fill-opacity="1" filter="url(#b3)"/>
<path d="M284.0 108.0 C292.7 95.3 292.7 93.3 304.0 102.0 C315.3 110.7 312.7 110.7 318.0 134.0 C323.3 157.3 326.0 155.3 320.0 172.0 C314.0 188.7 312.7 184.7 300.0 184.0 C287.3 183.3 289.3 184.7 282.0 170.0 C274.7 155.3 277.3 160.7 278.0 140.0 C278.7 119.3 275.3 120.7 284.0 108.0Z" fill="#ecb036" fill-opacity="1" filter="url(#b3)"/>
<path d="M53.0 200.0 C65.0 198.7 91.7 204.7 124.0 218.0 C156.3 231.3 114.7 236.7 150.0 240.0 C185.3 243.3 171.3 242.7 230.0 228.0 C288.7 213.3 294.0 202.7 326.0 196.0 C358.0 189.3 342.3 198.3 326.0 208.0 C309.7 217.7 309.7 213.3 277.0 225.0 C244.3 236.7 260.7 231.3 228.0 243.0 C195.3 254.7 205.7 252.7 179.0 260.0 C152.3 267.3 164.0 267.3 148.0 265.0 C132.0 262.7 139.0 264.7 131.0 253.0 C123.0 241.3 138.3 240.3 124.0 230.0 C109.7 219.7 111.7 232.0 88.0 222.0 C64.3 212.0 41.0 201.3 53.0 200.0Z" fill="#a61810" fill-opacity="1" filter="url(#b5)"/>
<path d="M151.0 151.0 C165.0 146.7 162.0 146.7 181.0 148.0 C200.0 149.3 194.0 149.3 208.0 155.0 C222.0 160.7 220.7 153.3 223.0 165.0 C225.3 176.7 224.0 179.7 215.0 190.0 C206.0 200.3 215.3 194.0 196.0 196.0 C176.7 198.0 175.0 196.3 157.0 196.0 C139.0 195.7 148.0 206.7 142.0 195.0 C136.0 183.3 136.0 175.7 139.0 161.0 C142.0 146.3 137.0 155.3 151.0 151.0Z" fill="#d82816" fill-opacity="1" filter="url(#b2)"/>
</g>
<path d="M76.0 185.0 C64.0 157.7 62.7 166.3 84.0 140.0 C105.3 113.7 96.3 116.7 140.0 106.0 C183.7 95.3 174.3 94.7 215.0 108.0 C255.7 121.3 248.3 116.7 262.0 146.0 C275.7 175.3 268.3 169.3 256.0 196.0 C243.7 222.7 257.0 211.3 225.0 226.0 C193.0 240.7 195.0 241.3 160.0 240.0 C125.0 238.7 148.0 240.3 120.0 222.0 C92.0 203.7 88.0 212.3 76.0 185.0Z" fill="#b01c12" fill-opacity="0.55" filter="url(#b8)"/>
<path d="M94.0 174.0 C94.8 165.5 92.8 162.4 100.0 152.0 C107.2 141.6 107.4 142.5 121.0 135.0 C134.6 127.5 131.8 126.9 151.0 124.0 C170.2 121.1 173.8 121.1 193.0 124.0 C212.2 126.9 210.2 128.1 223.0 135.0 C235.8 141.9 237.0 143.1 241.0 150.0 C245.0 156.9 242.8 157.0 238.0 161.0 C233.2 165.0 231.0 166.6 223.0 165.0 C215.0 163.4 219.2 159.5 208.0 155.0 C196.8 150.5 196.2 149.1 181.0 148.0 C165.8 146.9 162.2 147.5 151.0 151.0 C139.8 154.5 141.4 153.3 139.0 161.0 C136.6 168.7 141.2 170.9 142.0 180.0 C142.8 189.1 138.0 190.7 142.0 195.0 C146.0 199.3 142.6 195.7 157.0 196.0 C171.4 196.3 181.9 193.3 196.0 196.0 C210.1 198.7 208.4 199.6 210.0 206.0 C211.6 212.4 212.9 215.7 202.0 220.0 C191.1 224.3 185.0 222.0 169.0 222.0 C153.0 222.0 150.8 224.3 142.0 220.0 C133.2 215.7 138.4 212.7 136.0 206.0 C133.6 199.3 139.4 199.0 133.0 195.0 C126.6 191.0 121.6 193.9 112.0 191.0 C102.4 188.1 101.8 188.5 97.0 184.0 C92.2 179.5 93.2 182.5 94.0 174.0Z" fill="#cccccc" stroke="#cccccc" stroke-width="5" filter="url(#rough2)"/>
<ellipse cx="175" cy="218" rx="20" ry="6" fill="#a8a8a8" fill-opacity="0.8" filter="url(#b3)"/>
<path d="M108.0 140.0 C122.0 132.0 119.3 124.0 150.0 116.0 C180.7 108.0 170.7 110.0 200.0 116.0 C229.3 122.0 225.3 128.0 238.0 134.0" fill="none" stroke="#5a1410" stroke-width="4" stroke-opacity="0.7" stroke-linecap="round" stroke-linejoin="round" filter="url(#b2)"/>
<rect x="0" y="0" width="400" height="278" fill="url(#shade)"/>
<path d="M24.0 165.0 C23.3 146.7 16.5 157.7 25.0 137.0 C33.5 116.3 31.8 122.7 49.5 103.0 C67.2 83.3 56.2 94.2 78.0 78.0 C99.8 61.8 90.3 68.8 115.0 54.5 C139.7 40.2 123.7 45.5 152.0 35.0 C180.3 24.5 172.7 27.0 200.0 23.0 C227.3 19.0 211.3 19.0 234.0 23.0 C256.7 27.0 247.0 24.7 268.0 35.0 C289.0 45.3 279.0 39.7 297.0 54.0 C315.0 68.3 307.0 59.0 322.0 78.0 C337.0 97.0 330.0 88.3 342.0 111.0 C354.0 133.7 349.7 126.3 358.0 146.0 C366.3 165.7 365.7 156.0 367.0 170.0 C368.3 184.0 375.7 175.3 362.0 188.0 C348.3 200.7 354.3 195.7 326.0 208.0 C297.7 220.3 309.7 213.3 277.0 225.0 C244.3 236.7 260.7 231.3 228.0 243.0 C195.3 254.7 205.7 252.7 179.0 260.0 C152.3 267.3 164.0 267.3 148.0 265.0 C132.0 262.7 139.0 264.7 131.0 253.0 C123.0 241.3 138.3 240.3 124.0 230.0 C109.7 219.7 114.0 228.7 88.0 222.0 C62.0 215.3 66.3 220.0 46.0 210.0 C25.7 200.0 34.3 207.0 27.0 192.0 C19.7 177.0 24.7 183.3 24.0 165.0Z" fill="none" stroke="#4a1206" stroke-opacity="0.6" stroke-width="18" filter="url(#b5)"/>
</g>
<path d="M24.0 165.0 C23.3 146.7 16.5 157.7 25.0 137.0 C33.5 116.3 31.8 122.7 49.5 103.0 C67.2 83.3 56.2 94.2 78.0 78.0 C99.8 61.8 90.3 68.8 115.0 54.5 C139.7 40.2 123.7 45.5 152.0 35.0 C180.3 24.5 172.7 27.0 200.0 23.0 C227.3 19.0 211.3 19.0 234.0 23.0 C256.7 27.0 247.0 24.7 268.0 35.0 C289.0 45.3 279.0 39.7 297.0 54.0 C315.0 68.3 307.0 59.0 322.0 78.0 C337.0 97.0 330.0 88.3 342.0 111.0 C354.0 133.7 349.7 126.3 358.0 146.0 C366.3 165.7 365.7 156.0 367.0 170.0 C368.3 184.0 375.7 175.3 362.0 188.0 C348.3 200.7 354.3 195.7 326.0 208.0 C297.7 220.3 309.7 213.3 277.0 225.0 C244.3 236.7 260.7 231.3 228.0 243.0 C195.3 254.7 205.7 252.7 179.0 260.0 C152.3 267.3 164.0 267.3 148.0 265.0 C132.0 262.7 139.0 264.7 131.0 253.0 C123.0 241.3 138.3 240.3 124.0 230.0 C109.7 219.7 114.0 228.7 88.0 222.0 C62.0 215.3 66.3 220.0 46.0 210.0 C25.7 200.0 34.3 207.0 27.0 192.0 C19.7 177.0 24.7 183.3 24.0 165.0Z" fill="none" stroke="#2a1008" stroke-opacity="0.92" stroke-width="4"/>
</g>
</defs>
<g id="chart">
<path d="M37.6 32.949999999999996 V243.15 H298.8" fill="none" stroke="#000" stroke-width="1.5"/>
<path d="M37.6 243.55 h4.2 M37.6 208.55 h4.2 M37.6 173.55 h4.2 M37.6 138.55 h4.2 M37.6 103.55 h4.2 M37.6 68.55 h4.2 M37.6 33.55 h4.2 M37.6 226.05 h2.4 M37.6 191.05 h2.4 M37.6 156.05 h2.4 M37.6 121.05 h2.4 M37.6 86.05 h2.4 M37.6 51.05 h2.4 M43.00 243.15 v-4.2 M99.68 243.15 v-4.2 M156.36 243.15 v-4.2 M213.04 243.15 v-4.2 M269.72 243.15 v-4.2 M71.34 243.15 v-2.4 M128.02 243.15 v-2.4 M184.70 243.15 v-2.4 M241.38 243.15 v-2.4 M298.06 243.15 v-2.4" fill="none" stroke="#000" stroke-width="1.4"/>
<polyline points="45.83,204.07 48.67,179.57 51.50,180.97 54.34,205.47 57.17,172.57 60.00,151.57 62.84,198.47 65.67,176.77 68.51,148.77 71.34,154.37 74.17,136.87 77.01,165.57 79.84,204.77 82.68,189.37 85.51,155.07 88.34,153.67 91.18,183.77 94.01,110.97 96.85,119.37 99.68,172.57 102.51,207.57 105.35,170.47 108.18,166.97 111.02,193.57 113.85,169.07 116.68,144.57 119.52,155.07 122.35,127.07 125.19,183.07 128.02,199.17 130.85,162.07 133.69,212.47 136.52,132.67 139.36,173.97 142.19,181.67 145.02,172.57 147.86,158.57 150.69,179.57 153.53,110.62 156.36,127.07 159.19,169.07 162.03,158.57 164.86,179.57 167.70,186.57 170.53,213.87 173.36,148.77 176.20,187.97 179.03,179.57 181.87,179.57 184.70,114.47 187.53,120.77 190.37,186.57 193.20,167.67 196.04,178.17 198.87,137.57 201.70,184.47 204.54,169.07 207.37,130.22 210.21,179.15 213.04,165.57 215.87,186.57 218.71,158.57 221.54,145.97 224.38,134.07 227.21,172.57 230.04,151.57 232.88,197.07 235.71,158.57 238.55,172.57 241.38,201.97 244.21,158.57 247.05,137.57 249.88,186.57 252.72,164.17 255.55,166.27 258.38,176.77 261.22,186.57 264.05,165.57 266.89,162.07 269.72,167.67 272.55,180.27 275.39,198.47" fill="none" stroke="#515151" stroke-width="1.5" stroke-linejoin="round" stroke-linecap="round"/>
<polyline points="45.83,214.57 48.67,186.57 51.50,169.77 54.34,208.97 57.17,197.07 60.00,190.07 62.84,157.87 65.67,173.97 68.51,189.37 71.34,159.97 74.17,155.07 77.01,154.37 79.84,128.12 82.68,192.87 85.51,189.37 88.34,162.77 91.18,211.07 94.01,134.07 96.85,171.87 99.68,189.37 102.51,219.82 105.35,180.27 108.18,190.07 111.02,179.57 113.85,163.47 116.68,162.07 119.52,164.17 122.35,71.07 125.19,179.57 128.02,158.22 130.85,138.97 133.69,186.57 136.52,176.07 139.36,164.52 142.19,204.77 145.02,198.47 147.86,186.57 150.69,173.97 153.53,124.97 156.36,139.67 159.19,151.57 162.03,177.47 164.86,201.27 167.70,202.67 170.53,190.07 173.36,203.37 176.20,206.17 179.03,199.17 181.87,195.67 184.70,172.57 187.53,165.57 190.37,216.67 193.20,187.97 196.04,183.07 198.87,166.27 201.70,215.27 204.54,190.07 207.37,162.07 210.21,197.42 213.04,185.87 215.87,214.57 218.71,187.97 221.54,183.77 224.38,187.97 227.21,167.67 230.04,75.27 232.88,193.57 235.71,82.97 238.55,165.57 241.38,220.17 244.21,158.57 247.05,61.27 249.88,199.17 252.72,180.27 255.55,171.17 258.38,211.07 261.22,186.57 264.05,157.17 266.89,193.57 269.72,193.57 272.55,193.57 275.39,198.47" fill="none" stroke="#F14040" stroke-width="1.5" stroke-linejoin="round" stroke-linecap="round"/>
<polyline points="45.83,202.67 48.67,195.67 51.50,200.57 54.34,207.57 57.17,176.07 60.00,157.17 62.84,186.57 65.67,191.47 68.51,205.12 71.34,183.07 74.17,152.27 77.01,142.47 79.84,212.47 82.68,211.07 85.51,179.57 88.34,172.57 91.18,210.37 94.01,116.57 96.85,170.47 99.68,186.57 102.51,203.37 105.35,171.87 108.18,187.97 111.02,204.07 113.85,172.57 116.68,127.77 119.52,177.47 122.35,145.97 125.19,206.87 128.02,179.57 130.85,165.57 133.69,206.17 136.52,169.77 139.36,175.37 142.19,172.22 145.02,183.07 147.86,123.57 150.69,207.57 153.53,165.57 156.36,134.07 159.19,134.77 162.03,170.47 164.86,180.27 167.70,189.37 170.53,206.87 173.36,179.57 176.20,190.07 179.03,192.87 181.87,191.12 184.70,165.57 187.53,138.97 190.37,201.27 193.20,190.77 196.04,189.37 198.87,170.47 201.70,179.57 204.54,171.87 207.37,152.27 210.21,169.07 213.04,161.37 215.87,179.57 218.71,204.77 221.54,148.77 224.38,175.37 227.21,156.47 230.04,155.07 232.88,218.42 235.71,165.57 238.55,158.57 241.38,194.27 244.21,151.57 247.05,78.77 249.88,197.07 252.72,187.97 255.55,183.07 258.38,179.57 261.22,179.57 264.05,158.57 266.89,136.17 269.72,197.77 272.55,169.07 275.39,211.42" fill="none" stroke="#1A6FDF" stroke-width="1.5" stroke-linejoin="round" stroke-linecap="round"/>
<polyline points="45.83,214.57 48.67,190.77 51.50,183.07 54.34,225.07 57.17,175.37 60.00,125.67 62.84,214.57 65.67,178.87 68.51,183.07 71.34,149.47 74.17,144.57 77.01,155.77 79.84,212.47 82.68,207.57 85.51,161.37 88.34,202.67 91.18,179.57 94.01,91.37 96.85,155.07 99.68,167.67 102.51,173.27 105.35,155.77 108.18,176.77 111.02,192.17 113.85,165.57 116.68,117.97 119.52,135.47 122.35,131.97 125.19,193.57 128.02,172.57 130.85,138.97 133.69,204.07 136.52,179.57 139.36,178.17 142.19,183.07 145.02,150.87 147.86,145.27 150.69,193.57 153.53,204.77 156.36,127.77 159.19,137.57 162.03,123.57 164.86,176.77 167.70,189.37 170.53,203.37 173.36,201.97 176.20,167.67 179.03,179.22 181.87,169.07 184.70,165.57 187.53,122.87 190.37,197.07 193.20,180.27 196.04,183.07 198.87,148.77 201.70,208.97 204.54,165.57 207.37,144.57 210.21,179.57 213.04,124.97 215.87,199.87 218.71,114.47 221.54,162.07 224.38,124.97 227.21,165.57 230.04,96.27 232.88,218.42 235.71,151.57 238.55,103.97 241.38,179.57 244.21,113.77 247.05,108.87 249.88,197.07 252.72,165.57 255.55,158.57 258.38,99.07 261.22,186.57 264.05,108.17 266.89,165.57 269.72,178.17 272.55,143.17 275.39,184.47" fill="none" stroke="#37AD6B" stroke-width="1.5" stroke-linejoin="round" stroke-linecap="round"/>
<text x="33.0" y="247.15" font-size="11.4" text-anchor="end">15</text>
<text x="33.0" y="212.15" font-size="11.4" text-anchor="end">20</text>
<text x="33.0" y="177.15" font-size="11.4" text-anchor="end">25</text>
<text x="33.0" y="142.15" font-size="11.4" text-anchor="end">30</text>
<text x="33.0" y="107.15" font-size="11.4" text-anchor="end">35</text>
<text x="33.0" y="72.15" font-size="11.4" text-anchor="end">40</text>
<text x="33.0" y="37.15" font-size="11.4" text-anchor="end">45</text>
<text x="43.00" y="257.2" font-size="11.2" text-anchor="middle">0</text>
<text x="99.68" y="257.2" font-size="11.2" text-anchor="middle">20</text>
<text x="156.36" y="257.2" font-size="11.2" text-anchor="middle">40</text>
<text x="213.04" y="257.2" font-size="11.2" text-anchor="middle">60</text>
<text x="269.72" y="257.2" font-size="11.2" text-anchor="middle">80</text>
<text x="168.2" y="276.2" font-size="12.2" text-anchor="middle">Individual</text>
<text transform="translate(14.5,138.2) rotate(-90)" font-size="12" text-anchor="middle">GV</text>
<text x="160.5" y="23" font-size="15" text-anchor="middle">ICC = 0.616</text>
<text x="1.2" y="12" font-size="14.2">A</text>
<text x="339.2" y="12" font-size="14.2">B</text>
<path d="M52.70 39.6 h9.2" stroke="#515151" stroke-width="1.45"/>
<text x="69.70" y="43" font-size="10.7">Run 1</text>
<path d="M115.45 39.6 h9.2" stroke="#F14040" stroke-width="1.45"/>
<text x="132.45" y="43" font-size="10.7">Run 2</text>
<path d="M178.20 39.6 h9.2" stroke="#1A6FDF" stroke-width="1.45"/>
<text x="195.20" y="43" font-size="10.7">Run 3</text>
<path d="M240.95 39.6 h9.2" stroke="#37AD6B" stroke-width="1.45"/>
<text x="257.95" y="43" font-size="10.7">Run 4</text>
</g>
<g id="brains">
<use href="#vA" x="0" y="0"/>
<use href="#vB" x="0" y="0"/>
<use href="#vC" x="0" y="0"/>
<use href="#vD" x="0" y="0"/>
<use href="#vA" x="158" y="0"/>
<use href="#vB" x="158" y="0"/>
<use href="#vC" x="158" y="0"/>
<use href="#vD" x="158" y="0"/>
<use href="#vA" x="0" y="124.3"/>
<use href="#vB" x="0" y="124.3"/>
<use href="#vC" x="0" y="124.3"/>
<use href="#vD" x="0" y="124.3"/>
<use href="#vA" x="158" y="124.3"/>
<use href="#vB" x="158" y="124.3"/>
<use href="#vC" x="158" y="124.3"/>
<use href="#vD" x="158" y="124.3"/>
<text x="419.3" y="42.3" font-size="16" text-anchor="middle">Run 1</text>
<text x="576.6" y="42.8" font-size="16" text-anchor="middle">Run 2</text>
<text x="419.6" y="263" font-size="16" text-anchor="middle">Run 3</text>
<text x="576.2" y="263" font-size="16" text-anchor="middle">Run 4</text>
<text x="496" y="156" font-size="16.2" text-anchor="middle">ICC = 0.978</text>
<rect x="664" y="107.2" width="7.8" height="88.5" fill="url(#cb)"/>
<text transform="translate(683.2,107.2) rotate(-90)" font-size="15.6" text-anchor="middle">0.9</text>
<text transform="translate(683.4,199) rotate(-90)" font-size="15.6" text-anchor="middle">0</text>
<text transform="translate(661.6,151) rotate(-90)" font-size="16.5" text-anchor="middle">Z</text>
</g>
</svg>
</body></html>
